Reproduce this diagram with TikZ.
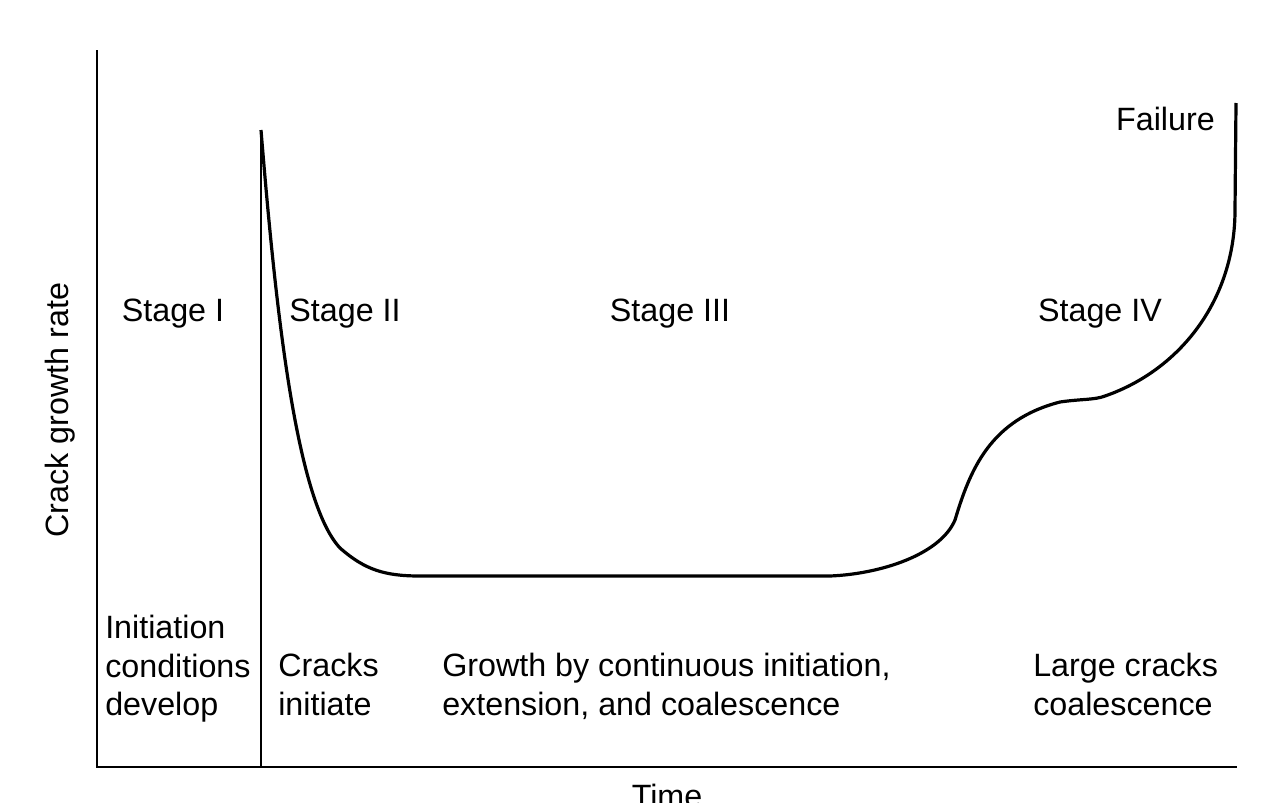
\documentclass[tikz,border=0pt]{standalone}
\usepackage{fontspec}
\setmainfont{Liberation Sans}
\begin{document}
\begin{tikzpicture}[x=0.75pt,y=-0.75pt,
  lbl/.style={font=\fontsize{24.2}{29}\selectfont,inner sep=0pt},
  lbll/.style={lbl,align=left,anchor=north west}]
\useasboundingbox (0,0) rectangle (1278,803);
\coordinate (top) at (97,50);
\coordinate (org) at (97,767);
\coordinate (xend) at (1237,767);
\draw[line width=1.4pt] (top) -- (org) -- (xend);
\coordinate (s2top) at (261,130);
\coordinate (s2bot) at (261,767);
\draw[line width=1.1pt] (s2top) -- (s2bot);
\draw[line width=2.4pt,line join=round]
  (s2top) .. controls (275,300) and (295,500) .. (340,548)
  .. controls (365,570) and (385,576) .. (420,576)
  -- (830,576)
  .. controls (880,574) and (940,555) .. (955,520)
  .. controls (970,470) and (990,420) .. (1060,402)
  .. controls (1080,399) and (1095,400) .. (1105,396)
  .. controls (1180,370) and (1235,300) .. (1235,210)
  -- (1236,103);
\node[lbl] (st1) at (173,314) {Stage I};
\node[lbl] (st2) at (345,314) {Stage II};
\node[lbl] (st3) at (670,314) {Stage III};
\node[lbl] (st4) at (1100,314) {Stage IV};
\node[lbl,anchor=east] (fail) at (1215,119) {Failure};
\node[lbll] (d1) at (105,615) {Initiation\\conditions\\develop};
\node[lbll] (d2) at (278,653) {Cracks\\initiate};
\node[lbll] (d3) at (442,653) {Growth by continuous initiation,\\extension, and coalescence};
\node[lbll] (d4) at (1033,653) {Large cracks\\coalescence};
\node[lbl,anchor=north] (time) at (667,784) {Time};
\node[lbl,rotate=90] (yl) at (60,410) {Crack growth rate};
\end{tikzpicture}
\end{document}
